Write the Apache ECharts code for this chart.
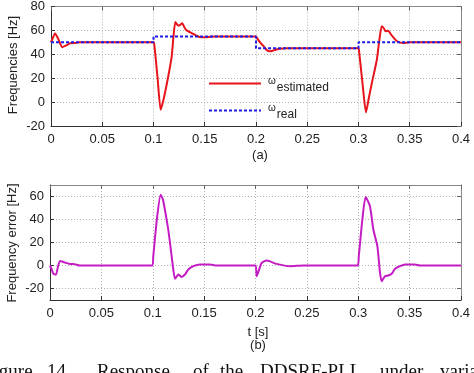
<!DOCTYPE html>
<html>
<head>
<meta charset="utf-8">
<script src="https://cdn.jsdelivr.net/npm/echarts@6/dist/echarts.min.js"></script>
<style>html,body{margin:0;padding:0;background:#fff;}#c{width:474px;height:373px;}</style>
</head>
<body>
<div id="c"></div>
<script>
// ---- data ----
var xTicks = [0, 0.05, 0.1, 0.15, 0.2, 0.25, 0.3, 0.35, 0.4];
var freqTicks = [-20, 0, 20, 40, 60, 80];
var errTicks = [-20, 0, 20, 40, 60];

var tReal = [0, 0.1, 0.1, 0.2, 0.2, 0.3, 0.3, 0.4];
var fReal = [50, 50, 55, 55, 45, 45, 50, 50];

var tEst = [0, 0.001, 0.004, 0.007, 0.011, 0.015, 0.0185, 0.023, 0.028, 0.1, 0.1008, 0.104, 0.107, 0.110, 0.114, 0.1177, 0.1195, 0.1213, 0.1235, 0.125, 0.128, 0.1305, 0.1324, 0.139, 0.145, 0.152, 0.16, 0.2, 0.2007, 0.204, 0.2072, 0.2105, 0.2137, 0.218, 0.2234, 0.23, 0.3, 0.3005, 0.304, 0.3073, 0.310, 0.3129, 0.3178, 0.3203, 0.3226, 0.3245, 0.3265, 0.3288, 0.3324, 0.3373, 0.3437, 0.35, 0.4];
var fEst = [50, 52, 57.5, 53, 46, 47.5, 49.2, 49.5, 50, 50, 48, 20, -6.5, 3, 19.7, 37.8, 55, 67, 64.5, 64, 66, 62, 60, 57, 54.5, 54.3, 55, 55, 54, 50, 47, 43.5, 42.5, 43.5, 44.7, 45, 45, 43, 15, -8.6, 3, 15.5, 35, 51.7, 63.5, 62, 59.2, 59.7, 55.8, 51.1, 49.4, 50, 50];

var tErr = [0, 0.0015, 0.0032, 0.0058, 0.0075, 0.0097, 0.012, 0.0146, 0.0195, 0.024, 0.029, 0.0996, 0.1005, 0.104, 0.1077, 0.11, 0.1146, 0.1168, 0.12, 0.1217, 0.1249, 0.128, 0.1314, 0.1346, 0.1395, 0.146, 0.1557, 0.162, 0.2, 0.2011, 0.206, 0.2109, 0.2206, 0.2336, 0.2465, 0.2994, 0.3005, 0.304, 0.3072, 0.3114, 0.3147, 0.3186, 0.3212, 0.3228, 0.326, 0.3292, 0.3325, 0.3358, 0.3406, 0.3455, 0.3552, 0.36, 0.4];
var fErr = [0, -3, -7, -8, -2, 4, 3.5, 2.5, 1.4, 1.2, 0, 0, 8, 40, 61.5, 57, 34, 19.7, -3.5, -11.6, -7.8, -9.9, -7.8, -3.5, -0.6, 0.9, 0.9, 0, 0, -9.3, 2.3, 4.3, 1.4, -0.6, 0, 0, 8, 40, 59.5, 51.6, 31.3, 16.8, -6.4, -13.6, -9.3, -8.7, -7.2, -2.9, -0.6, 0.9, 0.9, 0, 0];

function pairs(t, v) { return t.map(function (x, i) { return [x, v[i]]; }); }

var chart = echarts.init(document.getElementById('c'), null, {renderer: 'canvas'});
var lblFont = {fontFamily: 'Liberation Sans, Arial, sans-serif', fontSize: 13, color: '#222'};
var gridSplit = {show: true, lineStyle: {type: [1, 2], color: '#b0b0b0', width: 1}};

function mainX(gi) {
  return {type: 'value', gridIndex: gi, min: 0, max: 0.4, interval: 0.05, position: 'bottom',
    axisLine: {show: true, onZero: false, lineStyle: {color: '#333', width: 1}},
    axisTick: {show: true, inside: true, length: 4, lineStyle: {color: '#333'}},
    axisLabel: Object.assign({margin: 7, formatter: function (v) { return String(+v.toFixed(2)); }}, lblFont),
    splitLine: gridSplit};
}
function mirrorX(gi) {
  return {type: 'value', gridIndex: gi, min: 0, max: 0.4, interval: 0.05, position: 'top',
    axisLine: {show: true, onZero: false, lineStyle: {color: '#888', width: 1}},
    axisTick: {show: true, inside: true, length: 4, lineStyle: {color: '#666'}},
    axisLabel: {show: false}, splitLine: {show: false}};
}

var serif = '19px Liberation Serif, Times New Roman';
var option = {
  animation: false,
  backgroundColor: '#fff',
  grid: [
    {left: 51, right: 13, top: 6, height: 120},
    {left: 50, right: 13, top: 185, height: 115}
  ],
  xAxis: [mainX(0), mirrorX(0), mainX(1), mirrorX(1)],
  yAxis: [
    {type: 'value', gridIndex: 0, min: -20, max: 80, interval: 20, position: 'left',
      axisLine: {show: true, onZero: false, lineStyle: {color: '#333'}},
      axisTick: {show: true, inside: true, length: 4, lineStyle: {color: '#333'}},
      axisLabel: Object.assign({margin: 6, customValues: freqTicks}, lblFont),
      splitLine: gridSplit},
    {type: 'value', gridIndex: 0, min: -20, max: 80, interval: 20, position: 'right',
      axisLine: {show: true, onZero: false, lineStyle: {color: '#888'}},
      axisTick: {show: true, inside: true, length: 4, lineStyle: {color: '#666'}},
      axisLabel: {show: false}, splitLine: {show: false}},
    {type: 'value', gridIndex: 1, min: -30, max: 70, position: 'left',
      axisLine: {show: true, onZero: false, lineStyle: {color: '#333'}},
      axisTick: {show: true, inside: true, length: 4, lineStyle: {color: '#333'}, customValues: errTicks},
      axisLabel: Object.assign({margin: 6, customValues: errTicks}, lblFont),
      splitLine: gridSplit},
    {type: 'value', gridIndex: 1, min: -30, max: 70, position: 'right',
      axisLine: {show: true, onZero: false, lineStyle: {color: '#888'}},
      axisTick: {show: true, inside: true, length: 4, lineStyle: {color: '#666'}, customValues: errTicks},
      axisLabel: {show: false, customValues: errTicks}, splitLine: {show: false}}
  ],
  legend: {
    orient: 'vertical', left: 203, top: 71, itemWidth: 52, itemHeight: 10, itemGap: 9,
    backgroundColor: 'transparent',
    itemStyle: {opacity: 0},
    data: ['estimated', 'real'],
    formatter: function (n) { return '{w|ω}{s|' + n + '}'; },
    textStyle: {
      rich: {
        w: {fontSize: 10, fontFamily: 'Liberation Sans, Arial', color: '#222', padding: [0, 1, 5, 2]},
        s: {fontSize: 12, fontFamily: 'Liberation Sans, Arial', color: '#222', padding: [9, 0, 0, 0]}
      }
    }
  },
  series: [
    {name: 'estimated', type: 'line', xAxisIndex: 0, yAxisIndex: 0, data: pairs(tEst, fEst), smooth: 0.2,
      showSymbol: false, symbol: 'none', lineStyle: {color: '#e8141c', width: 2}, itemStyle: {color: '#e8141c'}, z: 2},
    {name: 'real', type: 'line', xAxisIndex: 0, yAxisIndex: 0, data: pairs(tReal, fReal),
      showSymbol: false, symbol: 'none', lineStyle: {color: '#1c1ce6', width: 2, type: [3, 2]}, itemStyle: {color: '#1c1ce6'}, z: 3},
    {name: 'error', type: 'line', xAxisIndex: 2, yAxisIndex: 2, data: pairs(tErr, fErr), smooth: 0.2,
      showSymbol: false, symbol: 'none', lineStyle: {color: '#c41cc4', width: 2}, z: 2}
  ],
  graphic: [
    {type: 'text', x: 13, y: 65, rotation: Math.PI / 2, style: {text: 'Frequencies [Hz]', font: '13px Liberation Sans, Arial', fill: '#222', textAlign: 'center', textVerticalAlign: 'middle'}},
    {type: 'text', x: 12, y: 243, rotation: Math.PI / 2, style: {text: 'Frequency error [Hz]', font: '13px Liberation Sans, Arial', fill: '#222', textAlign: 'center', textVerticalAlign: 'middle'}},
    {type: 'text', x: 260, y: 155, style: {text: '(a)', font: '13px Liberation Sans, Arial', fill: '#222', textAlign: 'center', textVerticalAlign: 'middle'}},
    {type: 'text', x: 258, y: 332, style: {text: 't [s]', font: '13px Liberation Sans, Arial', fill: '#222', textAlign: 'center', textVerticalAlign: 'middle'}},
    {type: 'text', x: 258, y: 345, style: {text: '(b)', font: '13px Liberation Sans, Arial', fill: '#222', textAlign: 'center', textVerticalAlign: 'middle'}},
    {type: 'text', x: -17, y: 363, style: {text: 'Figure', font: serif, fill: '#111'}},
    {type: 'text', x: 47, y: 363, style: {text: '14.', font: serif, fill: '#111'}},
    {type: 'text', x: 97, y: 363, style: {text: 'Response', font: serif, fill: '#111'}},
    {type: 'text', x: 193, y: 363, style: {text: 'of', font: serif, fill: '#111'}},
    {type: 'text', x: 220, y: 363, style: {text: 'the', font: serif, fill: '#111'}},
    {type: 'text', x: 260, y: 363, style: {text: 'DDSRF-PLL', font: serif, fill: '#111'}},
    {type: 'text', x: 380, y: 363, style: {text: 'under', font: serif, fill: '#111'}},
    {type: 'text', x: 440, y: 363, style: {text: 'variable', font: serif, fill: '#111'}}
  ]
};
chart.setOption(option);
</script>
</body>
</html>
